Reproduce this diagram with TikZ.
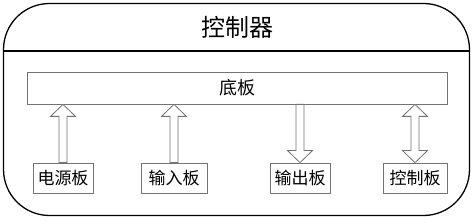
\documentclass[tikz,border=0pt]{standalone}
\usepackage{fontspec}
\setmainfont{Noto Sans CJK SC}
\usetikzlibrary{calc}

% fat hollow arrows between the boards and the base board
\newcommand\uparr[2]{\draw[fatline] let \p1=(#1.north), \p2=(#2.south) in
  (\x1-4pt,\y1) -- (\x1-4pt,\y2-12pt) -- (\x1-12.5pt,\y2-12pt) -- (\x1,\y2)
  -- (\x1+12.5pt,\y2-12pt) -- (\x1+4pt,\y2-12pt) -- (\x1+4pt,\y1) -- cycle;}
\newcommand\downarr[2]{\draw[fatline] let \p1=(#1.north), \p2=(#2.south) in
  (\x1-4pt,\y2) -- (\x1-4pt,\y1+12pt) -- (\x1-12.5pt,\y1+12pt) -- (\x1,\y1)
  -- (\x1+12.5pt,\y1+12pt) -- (\x1+4pt,\y1+12pt) -- (\x1+4pt,\y2) -- cycle;}
\newcommand\botharr[2]{\draw[fatline] let \p1=(#1.north), \p2=(#2.south) in
  (\x1-4pt,\y1+12pt) -- (\x1-4pt,\y2-12pt) -- (\x1-12.5pt,\y2-12pt) -- (\x1,\y2)
  -- (\x1+12.5pt,\y2-12pt) -- (\x1+4pt,\y2-12pt) -- (\x1+4pt,\y1+12pt)
  -- (\x1+12.5pt,\y1+12pt) -- (\x1,\y1) -- (\x1-12.5pt,\y1+12pt) -- cycle;}

\begin{document}
\begin{tikzpicture}[x=1pt,y=-1pt,
  outerbox/.style={draw=black,line width=1.3pt,rectangle,rounded corners=46pt,
    minimum width=466pt,minimum height=212pt,inner sep=0pt},
  baseboard/.style={draw=black!55,line width=0.8pt,rectangle,minimum width=420pt,
    minimum height=32pt,inner sep=0pt,font=\fontsize{18pt}{20pt}\selectfont},
  boardnode/.style={draw=black!55,line width=0.8pt,rectangle,minimum height=30pt,
    inner sep=1pt,font=\fontsize{17pt}{19pt}\selectfont},
  fatline/.style={draw=black!55,line width=0.8pt,fill=white}]
\useasboundingbox (0,0) rectangle (474,221);
\node[outerbox] (ctrl) at (236.5,109.5) {};
\node[font=\fontsize{24pt}{26pt}\selectfont] (title) at (237,27) {控制器};
\draw[line width=1.1pt] (ctrl.west |- 0,51) -- (ctrl.east |- 0,51);
\node[baseboard] (base) at (237,88) {底板};
\node[boardnode,minimum width=60pt] (power) at (63,178) {电源板};
\node[boardnode,minimum width=66pt] (input) at (174,178) {输入板};
\node[boardnode,minimum width=60pt] (output) at (300,178) {输出板};
\node[boardnode,minimum width=64pt] (control) at (415,178) {控制板};
\uparr{power}{base}
\uparr{input}{base}
\downarr{output}{base}
\botharr{control}{base}
\end{tikzpicture}
\end{document}
